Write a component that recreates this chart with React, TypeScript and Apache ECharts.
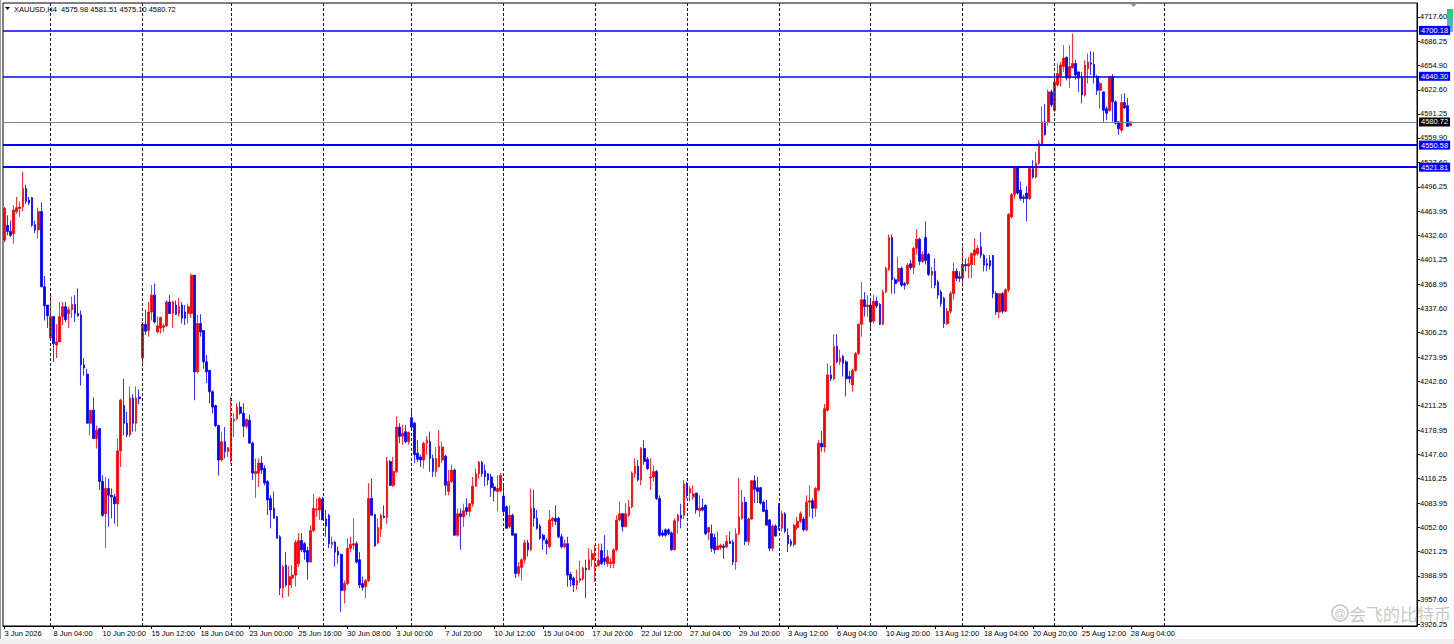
import { useEffect, useRef } from "react";
import * as echarts from "echarts";

// H4 candles as [open, close, low, high], one array per trading week
const week0 = [
  [4427, 4468, 4424, 4470], [4446, 4438, 4433, 4459], [4438, 4433, 4431, 4452], [4435, 4466, 4422, 4472],
  [4464, 4469, 4461, 4483], [4468, 4470, 4457, 4477], [4470, 4494, 4464, 4516], [4494, 4477, 4474, 4499],
  [4479, 4475, 4472, 4483], [4482, 4446, 4444, 4483], [4447, 4440, 4436, 4452], [4440, 4464, 4429, 4469],
  [4464, 4366, 4365, 4476], [4366, 4341, 4322, 4380], [4342, 4328, 4312, 4342],
];
const week1 = [
  [4299, 4327, 4296, 4355], [4327, 4292, 4268, 4327], [4290, 4294, 4273, 4317], [4294, 4327, 4294, 4346],
  [4327, 4340, 4316, 4346], [4340, 4323, 4320, 4346], [4331, 4336, 4312, 4340], [4336, 4343, 4325, 4353],
  [4343, 4331, 4320, 4355], [4331, 4328, 4327, 4364], [4329, 4264, 4237, 4335], [4264, 4260, 4250, 4273],
  [4252, 4188, 4188, 4259], [4188, 4205, 4172, 4205], [4205, 4168, 4168, 4222], [4168, 4179, 4155, 4185],
  [4181, 4112, 4101, 4181], [4112, 4068, 4066, 4120], [4070, 4103, 4025, 4118], [4103, 4094, 4053, 4116],
  [4094, 4092, 4064, 4103], [4092, 4083, 4057, 4096], [4083, 4152, 4053, 4168], [4152, 4218, 4131, 4220],
  [4211, 4188, 4172, 4246], [4188, 4173, 4170, 4203], [4173, 4221, 4170, 4236], [4221, 4188, 4177, 4226],
  [4188, 4221, 4177, 4236], [4222, 4220, 4213, 4232],
];
const week2 = [
  [4273, 4317, 4262, 4320], [4317, 4308, 4303, 4336], [4309, 4333, 4301, 4346], [4333, 4355, 4322, 4368],
  [4355, 4320, 4318, 4370], [4307, 4315, 4305, 4327], [4312, 4326, 4305, 4327], [4313, 4315, 4307, 4318],
  [4315, 4346, 4314, 4348], [4346, 4331, 4331, 4355], [4331, 4346, 4312, 4348], [4342, 4330, 4329, 4348],
  [4331, 4340, 4327, 4351], [4342, 4325, 4318, 4346], [4333, 4325, 4316, 4342], [4331, 4340, 4318, 4344],
  [4331, 4381, 4325, 4383], [4381, 4255, 4218, 4381], [4255, 4318, 4253, 4329], [4318, 4307, 4301, 4330],
  [4309, 4268, 4259, 4309], [4268, 4255, 4240, 4277], [4257, 4229, 4214, 4257], [4229, 4209, 4201, 4231],
  [4211, 4185, 4183, 4212], [4185, 4140, 4120, 4186], [4140, 4164, 4138, 4177], [4164, 4151, 4142, 4183],
  [4151, 4156, 4144, 4157],
];
const week3 = [
  [4143, 4191, 4135, 4222], [4191, 4193, 4170, 4201], [4194, 4209, 4192, 4214], [4209, 4201, 4199, 4216],
  [4201, 4184, 4170, 4214], [4184, 4193, 4181, 4194], [4192, 4162, 4162, 4199], [4162, 4123, 4114, 4164],
  [4122, 4125, 4091, 4142], [4123, 4136, 4105, 4142], [4136, 4127, 4122, 4145], [4129, 4110, 4107, 4133],
  [4112, 4088, 4068, 4114], [4090, 4075, 4051, 4094], [4077, 4064, 4064, 4099], [4066, 4038, 4038, 4067],
  [4040, 3973, 3964, 4042], [3973, 4001, 3960, 4003], [4003, 3977, 3975, 4020], [3977, 3988, 3962, 4002],
  [3986, 3990, 3973, 4003], [3990, 4033, 3975, 4036], [4005, 4035, 4001, 4045], [4035, 4023, 4020, 4045],
  [4031, 4020, 4010, 4033], [4022, 4007, 3984, 4027], [4007, 4048, 4007, 4055], [4048, 4077, 4046, 4096],
  [4075, 4076, 4066, 4090], [4075, 4090, 4062, 4092],
];
const week4 = [
  [4089, 4062, 4062, 4092], [4063, 4054, 4040, 4075], [4068, 4031, 4025, 4070], [4030, 4033, 4025, 4040],
  [4033, 4020, 4001, 4035], [4021, 4016, 4005, 4027], [4017, 3970, 3942, 4018], [3970, 3979, 3953, 3983],
  [3979, 4025, 3977, 4038], [4025, 4030, 4020, 4040], [4029, 4031, 4023, 4064], [4031, 4007, 4005, 4034],
  [4010, 3977, 3973, 4020], [3979, 3974, 3970, 3988], [3975, 3983, 3960, 3985], [3983, 4090, 3981, 4110],
  [4090, 4068, 4068, 4116], [4069, 4028, 4027, 4070], [4032, 4052, 4030, 4064], [4050, 4068, 4040, 4070],
  [4067, 4065, 4064, 4081], [4065, 4138, 4057, 4144], [4138, 4107, 4106, 4140], [4107, 4125, 4105, 4144],
  [4125, 4183, 4123, 4197], [4183, 4171, 4162, 4188], [4171, 4175, 4160, 4186], [4177, 4164, 4162, 4186],
  [4164, 4176, 4160, 4177],
];
const week5 = [
  [4195, 4183, 4180, 4205], [4188, 4147, 4136, 4190], [4149, 4141, 4138, 4166], [4144, 4140, 4131, 4147],
  [4140, 4162, 4129, 4164], [4162, 4166, 4147, 4171], [4164, 4142, 4125, 4177], [4142, 4125, 4118, 4147],
  [4125, 4142, 4118, 4157], [4131, 4158, 4131, 4179], [4140, 4157, 4136, 4164], [4145, 4107, 4094, 4147],
  [4099, 4112, 4094, 4127], [4112, 4127, 4110, 4134], [4127, 4042, 4042, 4129], [4042, 4070, 4040, 4077],
  [4070, 4066, 4023, 4077], [4066, 4074, 4053, 4083], [4078, 4073, 4068, 4090], [4073, 4083, 4066, 4084],
  [4083, 4106, 4079, 4118], [4106, 4122, 4105, 4129], [4122, 4137, 4116, 4139], [4137, 4122, 4118, 4139],
  [4126, 4118, 4106, 4134], [4122, 4114, 4107, 4123], [4118, 4104, 4092, 4122], [4105, 4100, 4086, 4110],
  [4099, 4103, 4073, 4120], [4100, 4120, 4098, 4123],
];
const week6 = [
  [4093, 4073, 4071, 4107], [4079, 4051, 4051, 4081], [4053, 4068, 4051, 4081], [4068, 4042, 4042, 4070],
  [4044, 3992, 3986, 4044], [3992, 4001, 3988, 4007], [4000, 4010, 3983, 4012], [4010, 4032, 4005, 4036],
  [4032, 4023, 4014, 4036], [4023, 4077, 4021, 4103], [4077, 4064, 4053, 4101], [4064, 4051, 4049, 4075],
  [4054, 4038, 4036, 4057], [4042, 4036, 4023, 4044], [4035, 4031, 4017, 4038], [4027, 4062, 4025, 4075],
  [4061, 4064, 4053, 4066], [4064, 4060, 4055, 4081], [4064, 4040, 4038, 4066], [4040, 4027, 4025, 4044],
  [4027, 4031, 4025, 4036], [4031, 3990, 3975, 4040], [3991, 3984, 3975, 3994], [3986, 3977, 3968, 3988],
  [3977, 3983, 3971, 3997], [3983, 3986, 3980, 4009], [3985, 3999, 3983, 4001], [3999, 3997, 3960, 4010],
  [3997, 4010, 3997, 4025], [4010, 4018, 4001, 4023],
];
const week7 = [
  [4001, 4003, 3981, 4029], [4003, 4009, 4001, 4031], [4022, 4005, 4003, 4031], [4012, 4008, 4003, 4042],
  [4005, 4014, 4001, 4023], [4005, 4007, 3999, 4012], [4005, 4023, 3999, 4025], [4023, 4062, 4021, 4068],
  [4062, 4070, 4060, 4086], [4070, 4053, 4047, 4071], [4053, 4070, 4053, 4084], [4068, 4079, 4066, 4088],
  [4079, 4123, 4077, 4125], [4122, 4132, 4117, 4142], [4132, 4114, 4112, 4140], [4114, 4155, 4107, 4157],
  [4155, 4138, 4134, 4166], [4141, 4129, 4127, 4144], [4117, 4118, 4101, 4142], [4118, 4125, 4112, 4133],
  [4125, 4090, 4088, 4127], [4090, 4042, 4040, 4094], [4045, 4042, 4040, 4049], [4049, 4042, 4040, 4051],
  [4049, 4044, 4042, 4051], [4045, 4023, 4022, 4047], [4023, 4061, 4022, 4064], [4061, 4068, 4044, 4070],
  [4068, 4064, 4051, 4083], [4068, 4109, 4063, 4114],
];
const week8 = [
  [4109, 4097, 4090, 4112], [4097, 4103, 4086, 4106], [4092, 4096, 4088, 4107], [4097, 4075, 4070, 4097],
  [4074, 4077, 4066, 4094], [4078, 4075, 4073, 4090], [4081, 4044, 4042, 4082], [4046, 4052, 4036, 4053],
  [4044, 4025, 4020, 4056], [4039, 4023, 4018, 4044], [4023, 4028, 4023, 4047], [4026, 4029, 4023, 4031],
  [4028, 4026, 4011, 4031], [4027, 4034, 4025, 4042], [4034, 4031, 4031, 4047], [4033, 4007, 4003, 4036],
  [4007, 4044, 3997, 4051], [4044, 4066, 4042, 4117], [4064, 4085, 4062, 4101], [4085, 4034, 4029, 4092],
  [4034, 4063, 4029, 4065], [4063, 4113, 4062, 4114], [4113, 4102, 4084, 4120], [4104, 4099, 4084, 4118],
  [4104, 4084, 4082, 4105], [4085, 4073, 4072, 4087], [4075, 4055, 4055, 4088], [4062, 4025, 4021, 4063],
  [4025, 4054, 4021, 4056], [4054, 4041, 4040, 4056],
];
const week9 = [
  [4081, 4053, 4048, 4084], [4051, 4070, 4047, 4074], [4070, 4047, 4045, 4072], [4042, 4031, 4020, 4051],
  [4034, 4030, 4027, 4037], [4030, 4055, 4027, 4057], [4052, 4060, 4049, 4066], [4060, 4070, 4058, 4073],
  [4063, 4049, 4047, 4066], [4049, 4085, 4047, 4094], [4085, 4087, 4066, 4107], [4087, 4077, 4064, 4090],
  [4077, 4103, 4066, 4105], [4101, 4162, 4099, 4166], [4162, 4157, 4151, 4178], [4157, 4207, 4150, 4213],
  [4205, 4251, 4203, 4266], [4251, 4246, 4243, 4263], [4246, 4288, 4244, 4304], [4288, 4268, 4266, 4304],
  [4268, 4273, 4264, 4284], [4275, 4266, 4249, 4277], [4268, 4246, 4223, 4270], [4249, 4246, 4240, 4256],
  [4238, 4257, 4229, 4259], [4257, 4279, 4255, 4281], [4279, 4317, 4277, 4318], [4317, 4349, 4301, 4372],
  [4349, 4340, 4327, 4359], [4340, 4342, 4327, 4355],
];
const week10 = [
  [4342, 4320, 4312, 4351], [4321, 4347, 4318, 4355], [4347, 4341, 4338, 4353], [4343, 4317, 4316, 4345],
  [4317, 4359, 4316, 4362], [4359, 4390, 4358, 4392], [4388, 4430, 4387, 4434], [4430, 4375, 4357, 4434],
  [4375, 4370, 4357, 4378], [4373, 4390, 4371, 4405], [4390, 4368, 4366, 4392], [4370, 4368, 4362, 4372],
  [4370, 4394, 4368, 4397], [4396, 4391, 4388, 4401], [4391, 4416, 4382, 4418], [4416, 4428, 4408, 4441],
  [4428, 4399, 4394, 4430], [4399, 4408, 4397, 4412], [4430, 4400, 4395, 4451], [4408, 4382, 4380, 4410],
  [4381, 4386, 4364, 4392], [4386, 4368, 4364, 4403], [4372, 4355, 4350, 4375], [4359, 4344, 4340, 4362],
  [4351, 4318, 4312, 4353], [4318, 4334, 4316, 4338], [4334, 4357, 4331, 4360], [4357, 4386, 4349, 4397],
  [4386, 4377, 4373, 4390], [4379, 4377, 4372, 4386],
];
const week11 = [
  [4377, 4395, 4366, 4418], [4395, 4393, 4386, 4403], [4393, 4396, 4377, 4405], [4395, 4409, 4377, 4411],
  [4407, 4414, 4394, 4429], [4409, 4416, 4407, 4420], [4418, 4407, 4403, 4437], [4407, 4394, 4386, 4409],
  [4396, 4394, 4386, 4403], [4400, 4393, 4388, 4407], [4407, 4357, 4351, 4407], [4357, 4333, 4329, 4360],
  [4333, 4357, 4325, 4357], [4357, 4334, 4331, 4359], [4334, 4362, 4333, 4364], [4362, 4460, 4359, 4462],
  [4457, 4486, 4455, 4488], [4486, 4521, 4481, 4522], [4521, 4488, 4486, 4523], [4492, 4481, 4478, 4503],
  [4483, 4481, 4475, 4486], [4488, 4481, 4451, 4497], [4481, 4520, 4479, 4523], [4520, 4509, 4507, 4531],
  [4509, 4527, 4507, 4542], [4527, 4553, 4525, 4557], [4551, 4581, 4549, 4601], [4581, 4564, 4563, 4604],
  [4580, 4620, 4576, 4623], [4620, 4603, 4600, 4623],
];
const week12 = [
  [4596, 4633, 4594, 4636], [4629, 4644, 4627, 4657], [4640, 4655, 4627, 4659], [4653, 4664, 4646, 4681],
  [4665, 4638, 4635, 4666], [4638, 4653, 4625, 4681], [4651, 4657, 4651, 4696], [4657, 4642, 4636, 4662],
  [4646, 4638, 4620, 4646], [4638, 4616, 4605, 4646], [4616, 4655, 4614, 4661], [4650, 4659, 4631, 4670],
  [4658, 4656, 4642, 4673], [4656, 4640, 4631, 4672], [4640, 4622, 4616, 4642], [4622, 4631, 4598, 4633],
  [4620, 4596, 4581, 4620], [4598, 4592, 4583, 4601], [4596, 4640, 4594, 4640], [4640, 4607, 4581, 4643],
  [4607, 4579, 4577, 4609], [4581, 4572, 4564, 4581], [4570, 4606, 4567, 4617], [4606, 4599, 4598, 4618],
  [4602, 4575, 4575, 4612], [4575.98, 4580.72, 4575.1, 4581.51],
];

// time labels, one every 16 bars
const timeLabels = [
  "3 Jun 2026", "8 Jun 04:00", "10 Jun 20:00", "15 Jun 12:00", "18 Jun 04:00", "23 Jun 00:00",
  "25 Jun 16:00", "30 Jun 08:00", "3 Jul 00:00", "7 Jul 20:00", "10 Jul 12:00", "15 Jul 04:00",
  "17 Jul 20:00", "22 Jul 12:00", "27 Jul 04:00", "29 Jul 20:00", "3 Aug 12:00", "6 Aug 04:00",
  "10 Aug 20:00", "13 Aug 12:00", "18 Aug 04:00", "20 Aug 20:00", "25 Aug 12:00", "28 Aug 04:00",
];
const LABEL_STEP = 16;

// price scale labels as MT4 prints them
const priceTicks = [
  4717.6, 4686.25, 4654.9, 4622.6, 4591.25, 4559.9, 4527.6, 4496.25, 4463.95, 4432.6, 4401.25,
  4368.95, 4337.6, 4306.25, 4273.95, 4242.6, 4211.25, 4178.95, 4147.6, 4116.25, 4083.95,
  4052.6, 4021.25, 3988.95, 3957.6, 3926.25,
];

// weekly period separators (bar index of monday 00:00)
const separatorBars = [15, 45, 74, 104, 133, 163, 193, 223, 253, 283, 313, 343, 379];
// horizontal levels drawn on the chart
const levelLines = [4700.18, 4640.3, 4550.58, 4521.81];

const SYMBOL = "XAUUSD,H4";
const TOTAL_SLOTS = 462; // bars + empty shift area on the right
const PRICE_MIN = 3923.65;
const PRICE_MAX = 4735.85;
const FONT = "'Liberation Sans', Arial, sans-serif";

const candles = [
  ...week0, ...week1, ...week2, ...week3, ...week4, ...week5, ...week6,
  ...week7, ...week8, ...week9, ...week10, ...week11, ...week12,
];

function buildOption(): echarts.EChartsOption {
  const categories = Array.from({ length: TOTAL_SLOTS }, (_, i) => String(i));
  const last = candles[candles.length - 1];
  const lastClose = last[1];
  const title = `${SYMBOL}  ${last[0].toFixed(2)} ${last[3].toFixed(2)} ${last[2].toFixed(2)} ${last[1].toFixed(2)}`;
  const showLabel = (i: number) => i % LABEL_STEP === 0 && i / LABEL_STEP < timeLabels.length;

  const priceLabel = (v: number, bg: string) => ({
    show: true,
    position: "end" as const,
    distance: 2,
    formatter: v.toFixed(2),
    backgroundColor: bg,
    color: "#fff",
    fontSize: 7.5,
    fontFamily: FONT,
    lineHeight: 9,
    padding: [0, 2, 0, 2],
  });

  return {
    animation: false,
    backgroundColor: "#ffffff",
    grid: { left: 3, right: 37, top: 3, bottom: 18, show: true, borderColor: "#000", borderWidth: 1 },
    xAxis: {
      type: "category",
      data: categories,
      boundaryGap: true,
      axisLine: { show: true, lineStyle: { color: "#000", width: 1 } },
      axisTick: {
        show: true,
        alignWithLabel: true,
        interval: (i: number) => showLabel(i),
        length: 3,
        lineStyle: { color: "#000" },
      },
      axisLabel: {
        interval: (i: number) => showLabel(i),
        formatter: (_v: string, i: number) => timeLabels[i / LABEL_STEP] ?? "",
        align: "left",
        fontSize: 7.5,
        fontFamily: FONT,
        color: "#000",
        margin: 3,
      },
      splitLine: { show: false },
    },
    yAxis: {
      type: "value",
      position: "right",
      min: PRICE_MIN,
      max: PRICE_MAX,
      axisLine: { show: true, lineStyle: { color: "#000", width: 1 } },
      axisTick: { show: true, length: 3, customValues: priceTicks, lineStyle: { color: "#000" } },
      axisLabel: {
        customValues: priceTicks,
        formatter: (v: number) => v.toFixed(2),
        fontSize: 7.5,
        fontFamily: FONT,
        color: "#000",
        margin: 3,
      },
      splitLine: { show: false },
    } as any,
    series: [
      {
        type: "candlestick",
        data: candles,
        barWidth: 2.2,
        itemStyle: {
          color: "#ff0000",
          color0: "#0000ff",
          borderColor: "#ff0000",
          borderColor0: "#0000ff",
          borderWidth: 0.8,
        },
        markLine: {
          silent: true,
          symbol: ["none", "none"],
          animation: false,
          data: [
            ...separatorBars.map((b) => ({
              xAxis: String(b),
              lineStyle: { color: "#1a1a1a", type: [3, 2] as any, width: 1 },
              label: { show: false },
            })),
            ...levelLines.map((v, i) => ({
              yAxis: v,
              lineStyle: { color: "#0000ff", type: "solid" as const, width: i < 2 ? 1.5 : 2 },
              label: priceLabel(v, "#0000ff"),
            })),
            {
              yAxis: lastClose,
              lineStyle: { color: "#7c8796", type: "solid" as const, width: 1 },
              label: priceLabel(lastClose, "#000000"),
            },
          ] as any,
        },
      },
    ],
    graphic: [
      { type: "rect", shape: { x: 0, y: 0, width: 1, height: 644 }, style: { fill: "#9a9a9a" }, silent: true },
      { type: "rect", shape: { x: 0, y: 639, width: 1454, height: 5 }, style: { fill: "#f0f0f0" }, silent: true },
      {
        type: "polygon",
        shape: { points: [[5, 7], [10, 7], [7.5, 10]] },
        style: { fill: "#000" },
        silent: true,
      },
      {
        type: "text",
        x: 14,
        y: 5,
        style: { text: title, fill: "#000", fontSize: 7.5, fontFamily: FONT },
        silent: true,
      },
      {
        type: "polygon",
        shape: { points: [[1130, 3], [1137, 3], [1133.5, 7]] },
        style: { fill: "#8a8a8a" },
        silent: true,
      },
      {
        type: "rect",
        shape: { x: 1447, y: 9, width: 6, height: 23 },
        style: {
          fill: new echarts.graphic.LinearGradient(0, 0, 0, 1, [
            { offset: 0, color: "#1fd066" },
            { offset: 1, color: "#62aef0" },
          ]),
        },
        silent: true,
      },
      {
        type: "circle",
        shape: { cx: 1340, cy: 613, r: 8 },
        style: { fill: "none", stroke: "rgba(120,120,120,0.45)", lineWidth: 1.5 },
        silent: true,
      },
      {
        type: "text",
        x: 1340,
        y: 613,
        style: {
          text: "@",
          fill: "rgba(120,120,120,0.5)",
          fontSize: 11,
          fontFamily: FONT,
          align: "center",
          verticalAlign: "middle",
        },
        silent: true,
      },
      {
        type: "text",
        x: 1451,
        y: 613,
        style: {
          text: "会飞的比特币",
          fill: "rgba(125,125,125,0.45)",
          fontSize: 17,
          fontFamily: "'Noto Sans CJK SC', sans-serif",
          align: "right",
          verticalAlign: "middle",
        },
        silent: true,
      },
    ],
  };
}

export default function App() {
  const chartRef = useRef<HTMLDivElement>(null);

  useEffect(() => {
    if (!chartRef.current) return;
    const chart = echarts.init(chartRef.current, null, { renderer: "svg" });
    chart.setOption(buildOption());
    return () => chart.dispose();
  }, []);

  return (
    <div
      ref={chartRef}
      style={{ position: "fixed", left: 0, top: 0, width: 1454, height: 644, background: "#fff" }}
    />
  );
}
